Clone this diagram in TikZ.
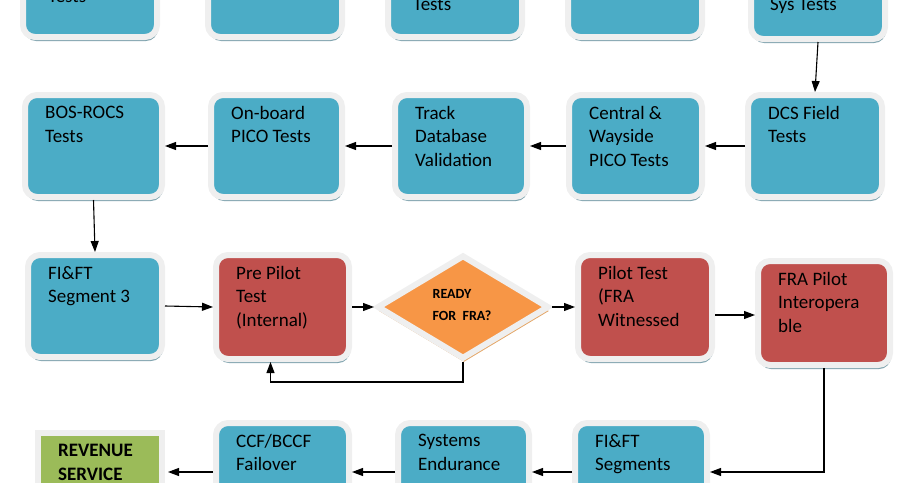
\documentclass[tikz,border=0pt]{standalone}
\usepackage{fontspec}
\setmainfont{Carlito}
\usetikzlibrary{shapes.geometric,shadows,arrows.meta}
\definecolor{tealb}{HTML}{4BACC6}
\definecolor{redb}{HTML}{C0504D}
\definecolor{orb}{HTML}{F79646}
\definecolor{grb}{HTML}{9BBB59}
\definecolor{rimc}{HTML}{EFEFEF}
\definecolor{shc}{HTML}{7FA3AE}
\tikzset{
 box/.style={draw=rimc,line width=6pt,rounded corners=12pt,fill=tealb,
   drop shadow={shadow xshift=1pt,shadow yshift=-4pt,fill=shc,opacity=1}},
 rbox/.style={box,fill=redb},
 gbox/.style={draw=rimc,line width=6pt,fill=grb,drop shadow={shadow xshift=3pt,shadow yshift=-3pt,fill=gray!40,opacity=1}},
 lbl/.style={anchor=north west,align=left,font=\fontsize{19}{23.5}\selectfont,inner sep=0pt},
 con/.style={draw=black,line width=1.1pt,-{Triangle[length=11pt,width=8pt]}},
}
\newcommand\bx[7]{%
 \pgfmathsetmacro\cw{#4-#2-6}\pgfmathsetmacro\ch{#5-#3-6}%
 \pgfmathsetmacro\cx{(#2+#4)/2}\pgfmathsetmacro\cy{(#3+#5)/2}%
 \node[#6,minimum width=\cw pt,minimum height=\ch pt,inner sep=0pt] (#1) at (\cx,\cy) {};
 \node[lbl] (#1t) at ([xshift=23pt,yshift=-14pt]#1.north west) {#7};}
\begin{document}
\begin{tikzpicture}[x=1pt,y=-1pt]
\useasboundingbox (0,0) rectangle (918,482);
\clip (0,0) rectangle (918,482);
% row 1
\bx{a1}{20}{-80}{160}{40}{box}{}
\node[lbl] (a1t) at (48,-10) {Tests};
\bx{a2}{205}{-80}{345}{40}{box}{}
\bx{a3}{385}{-80}{525}{40}{box}{}
\node[lbl] (a3t) at (413,-2) {Tests};
\bx{a4}{565}{-80}{705}{40}{box}{}
\bx{a5}{748}{-80}{888}{42}{box}{}
\node[lbl] (a5t) at (770,-2) {Sys Tests};
% row 2
\bx{b1}{22}{92}{165}{200}{box}{BOS-ROCS\\Tests}
\bx{b2}{208}{92}{345}{200}{box}{On-board\\PICO Tests}
\bx{b3}{392}{92}{530}{200}{box}{Track\\Database\\Validation}
\bx{b4}{566}{92}{705}{200}{box}{Central \&\\Wayside\\PICO Tests}
\bx{b5}{745}{92}{885}{200}{box}{DCS Field\\Tests}
% row 3
\bx{c1}{25}{252}{165}{360}{box}{FI\&FT\\Segment 3}
\bx{c2}{213}{252}{352}{362}{rbox}{Pre Pilot\\Test\\(Internal)}
\node[diamond,draw=rimc,line width=6pt,fill=orb,minimum width=172pt,minimum height=104pt,inner sep=0pt,aspect=1.65,
  drop shadow={shadow xshift=1pt,shadow yshift=-4pt,fill=brown!60!orange!70,opacity=1}] (d) at (463,307) {};
\node[align=left,font=\bfseries\fontsize{14}{22}\selectfont] (dt) at (462,305) {READY\\FOR~ FRA?};
\bx{c3}{575}{252}{715}{362}{rbox}{Pilot Test\\(FRA\\Witnessed}
\bx{c4}{755}{258}{893}{368}{rbox}{FRA Pilot\\Interopera\\ble}
% row 4
\bx{e1}{35}{430}{165}{540}{gbox}{\textbf{REVENUE}\\\textbf{SERVICE}}
\bx{e2}{213}{420}{352}{540}{box}{CCF/BCCF\\Failover}
\bx{e3}{395}{420}{532}{540}{box}{Systems\\Endurance}
\bx{e4}{572}{420}{710}{540}{box}{FI\&FT\\Segments}
% connectors
\draw[con] (a5.south) -- (b5.north);
\draw[con] (b5.west) -- (b4.east);
\draw[con] (b4.west) -- (b3.east);
\draw[con] (b3.west) -- (b2.east);
\draw[con] (b2.west) -- (b1.east);
\draw[con] (b1.south) -- (c1.north);
\draw[con] (c1.east) -- (c2.west);
\draw[con] (c2.east) -- (d.west);
\draw[con] (d.east) -- (c3.west);
\draw[con] (c3.east |- 0,315) -- (c4.west |- 0,315);
\draw[con] (d.south) -- ++(0,20) -| ([xshift=-12pt]c2.south);
\draw[con] (c4.south) |- (e4.east |- 0,472);
\draw[con] (e4.west |- 0,472) -- (e3.east |- 0,472);
\draw[con] (e3.west |- 0,472) -- (e2.east |- 0,472);
\draw[con] (e2.west |- 0,472) -- ([xshift=3pt]e1.east |- 0,472);
\end{tikzpicture}
\end{document}
